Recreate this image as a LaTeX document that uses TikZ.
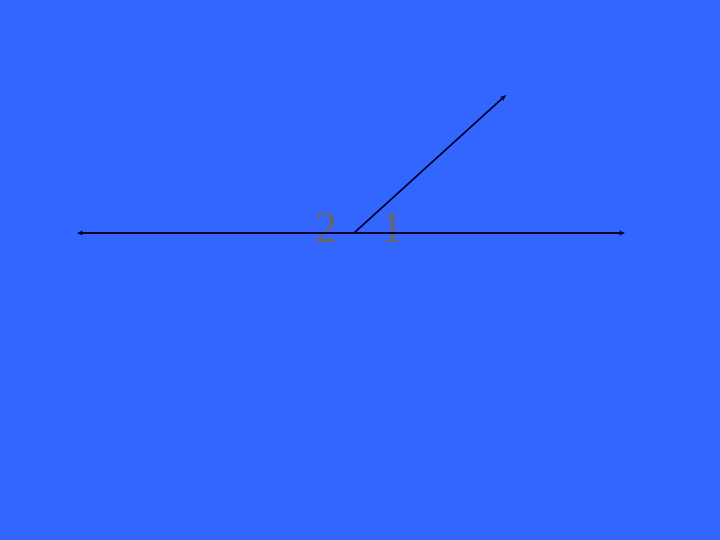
\documentclass[tikz,border=0pt]{standalone}
\usepackage{fontspec}
\setmainfont{Liberation Serif}
\usetikzlibrary{arrows.meta}
\definecolor{bgblue}{HTML}{3366FF}
\definecolor{linenavy}{HTML}{000033}
\definecolor{labelgray}{HTML}{666666}
\tikzset{
  ray/.style={draw=linenavy, line width=1.6pt, -{Stealth[length=6pt,width=5pt]}},
  anglelabel/.style={text=labelgray, font=\fontsize{44}{44}\selectfont, inner sep=0pt}
}
\begin{document}
\begin{tikzpicture}[x=1pt,y=-1pt]
  \fill[bgblue] (0,0) rectangle (720,540);
  \useasboundingbox (0,0) rectangle (720,540);
  \coordinate (L) at (77,233);
  \coordinate (R) at (625,233);
  \coordinate (V) at (354,233);
  \coordinate (T) at (506,95);
  \node[anglelabel] (2) at (326,228) {2};
  \node[anglelabel] (1) at (392,228) {1};
  % Draw the line and the ray
  \draw[ray] (V) -- (L);
  \draw[ray] (V) -- (R);
  \draw[ray] (V) -- (T);
\end{tikzpicture}
\end{document}
